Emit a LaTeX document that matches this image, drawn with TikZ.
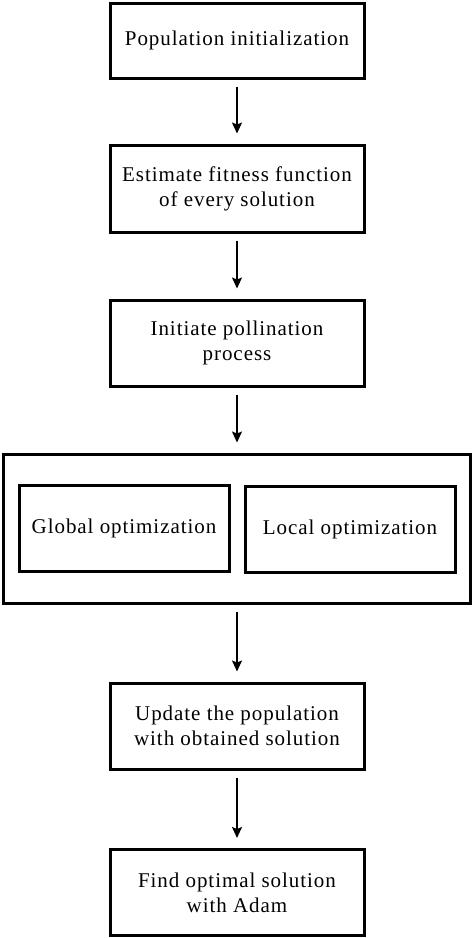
\documentclass[tikz,border=0pt]{standalone}
\usepackage{fontspec}
\setmainfont{Liberation Serif}[LetterSpace=4.5]
\usetikzlibrary{arrows.meta}
\begin{document}
\begin{tikzpicture}[x=1pt,y=-1pt,
  box/.style={draw=black,line width=3pt,rectangle,inner sep=0pt,
    minimum width=254pt,align=center,
    font=\fontsize{21}{25}\selectfont},
  inbox/.style={box,minimum width=210pt,minimum height=86pt},
  arr/.style={-{Stealth[length=11pt,width=10pt,inset=2pt]},line width=1.5pt,
    shorten <=7pt,shorten >=10pt}]
\useasboundingbox (0,0) rectangle (474,938);
\node[box,minimum height=75pt] (b1) at (237,40.5) {Population initialization};
\node[box,minimum height=87pt] (b2) at (237,188.5) {Estimate fitness function\\of every solution};
\node[box,minimum height=86pt] (b3) at (237,343) {Initiate pollination\\process};
\node[box,minimum width=467pt,minimum height=149pt] (outer) at (237,528.5) {};
\node[inbox] (gl) at (124,528) {Global optimization};
\node[inbox] (lo) at (350,529) {Local optimization};
\node[box,minimum height=86pt] (b5) at (237,726) {Update the population\\with obtained solution};
\node[box,minimum height=86pt] (b6) at (237,892.5) {Find optimal solution\\with Adam};
\draw[arr] (b1) -- (b2);
\draw[arr] (b2) -- (b3);
\draw[arr] (b3) -- (outer);
\draw[arr] (outer) -- (b5);
\draw[arr] (b5) -- (b6);
\end{tikzpicture}
\end{document}
